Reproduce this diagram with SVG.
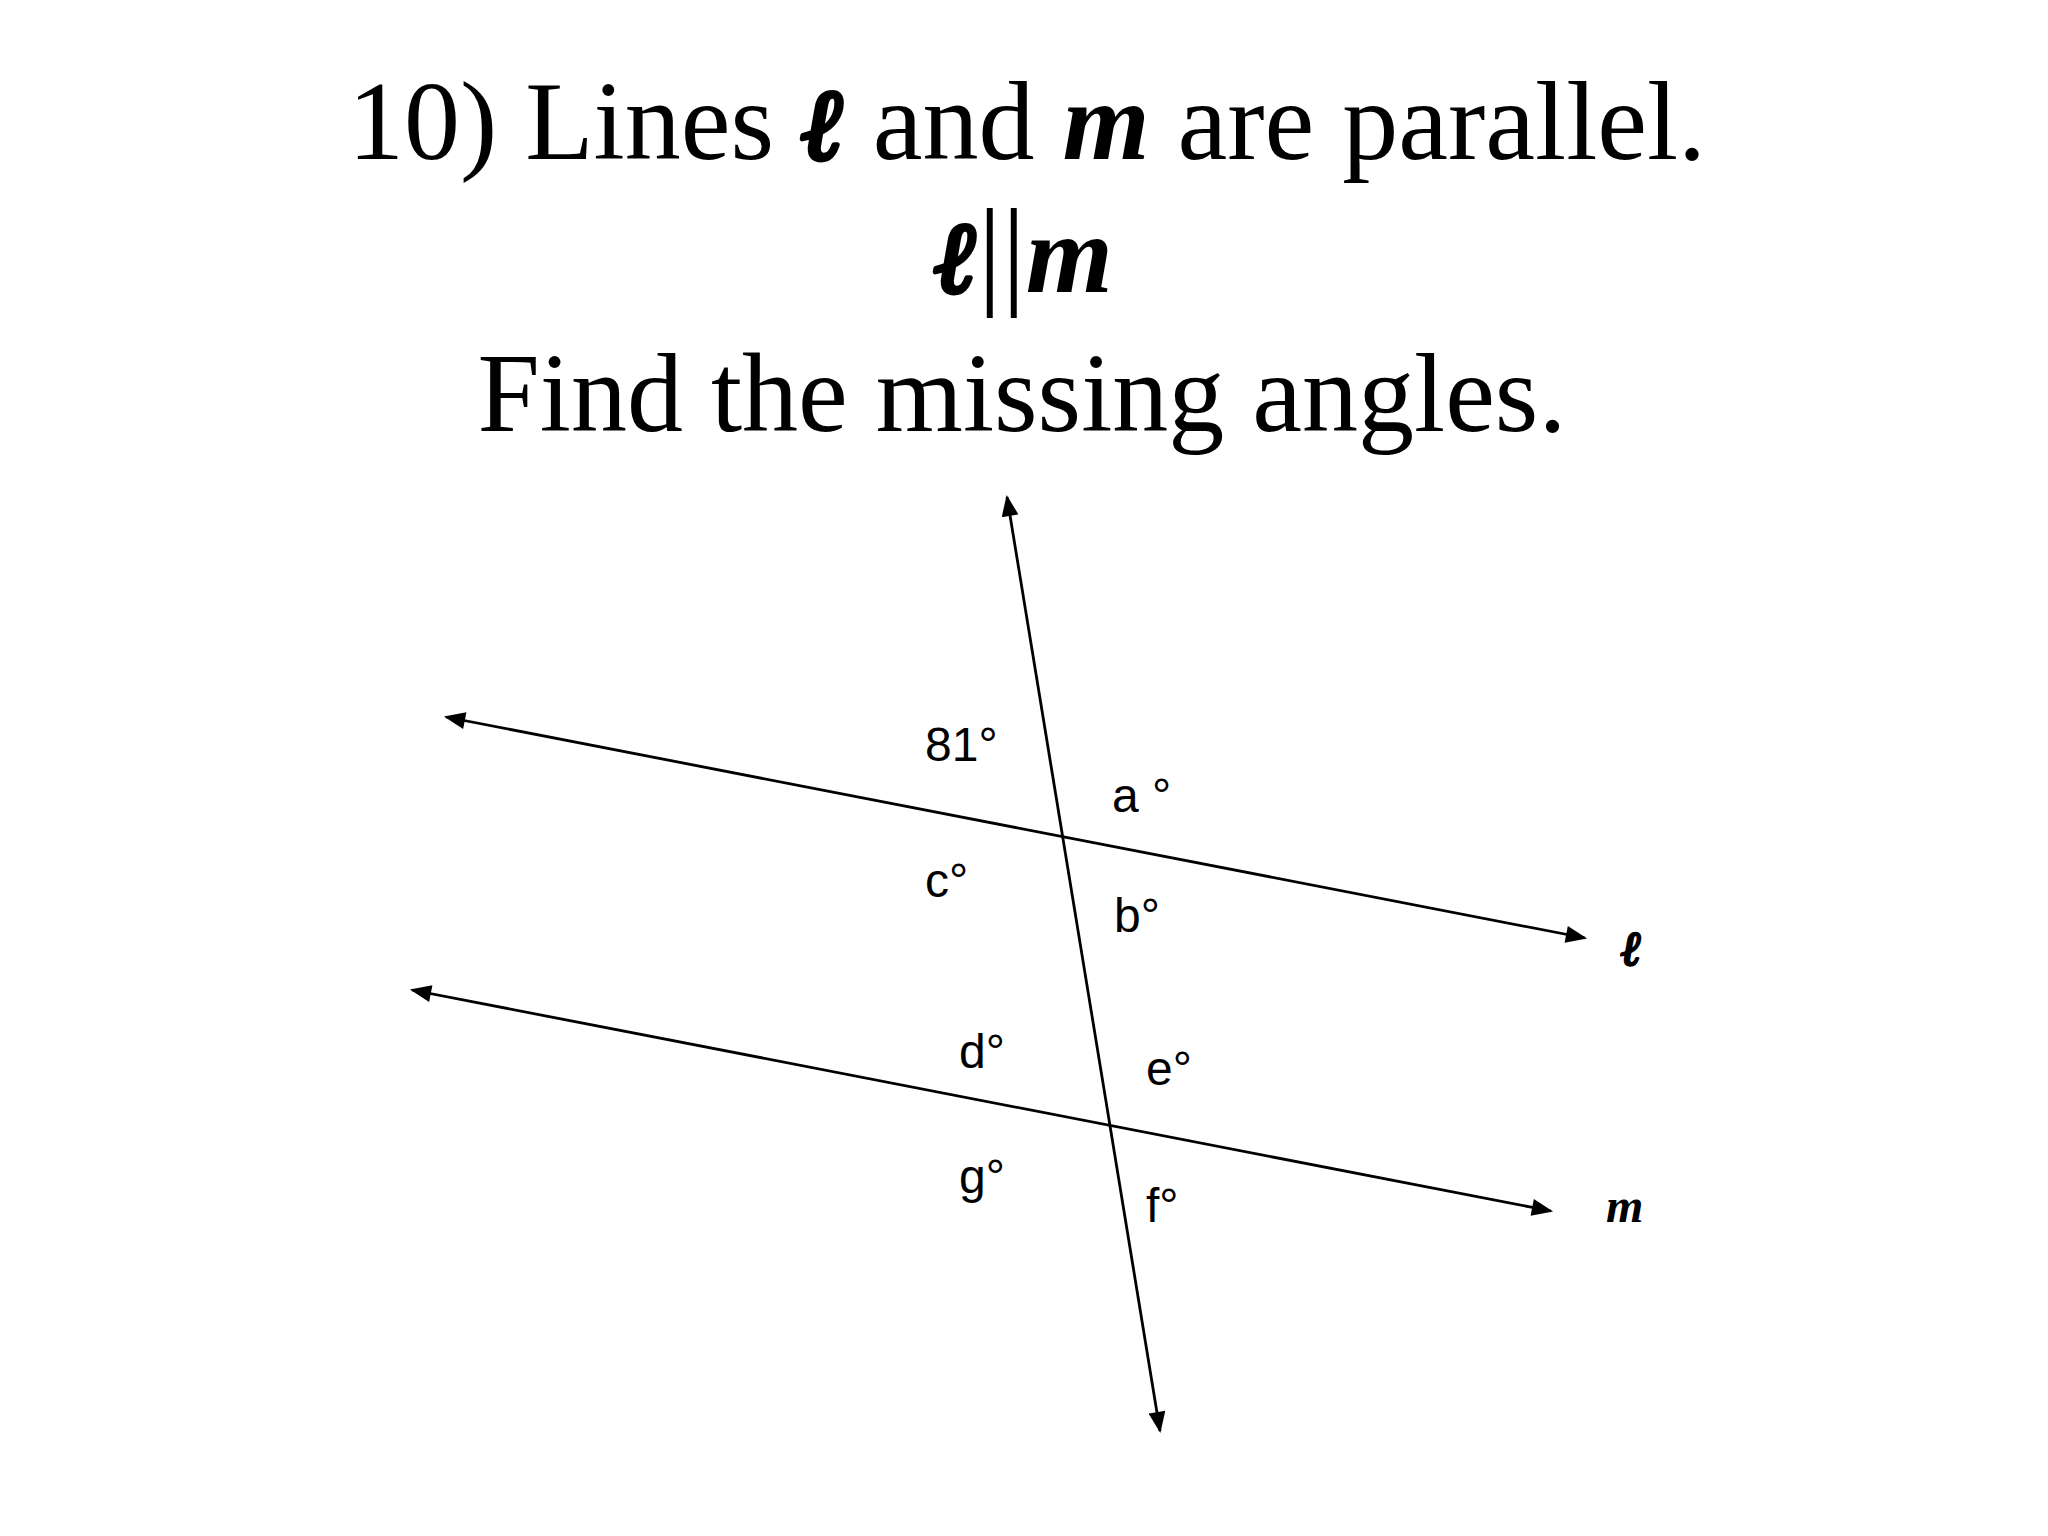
<svg xmlns="http://www.w3.org/2000/svg" width="2048" height="1536" viewBox="0 0 2048 1536">
<defs>
<style>
.title{font-family:"Liberation Serif","Times New Roman",serif;font-size:112px;fill:#000}
.sym{font-family:"DejaVu Serif","Liberation Serif",serif;font-weight:bold;font-style:italic;stroke:#000;stroke-width:5;stroke-linejoin:round}
.msym{font-family:"Liberation Serif",serif;font-weight:bold;font-style:italic}
.lbl{font-family:"Liberation Sans",Arial,sans-serif;font-size:48px;fill:#000}
.ln{stroke:#000;stroke-width:2.8;fill:none;marker-start:url(#ah);marker-end:url(#ah)}
</style>
<marker id="ah" viewBox="0 0 20 16" refX="18" refY="8" markerWidth="22" markerHeight="17" markerUnits="userSpaceOnUse" orient="auto-start-reverse">
<path d="M0,0 L20,8 L0,16 Z" fill="#000"/>
</marker>
</defs>
<rect width="2048" height="1536" fill="#fff"/>
<g id="title">
<text class="title" x="1027" y="159" text-anchor="middle">10) Lines <tspan class="sym" font-size="100">ℓ</tspan> and <tspan class="msym">m</tspan> are parallel.</text>
<text class="title" x="1024" y="292" text-anchor="middle"><tspan class="sym" font-size="100">ℓ</tspan><tspan font-size="120">||</tspan><tspan class="msym">m</tspan></text>
<text class="title" x="1022" y="431" text-anchor="middle">Find the missing angles.</text>
</g>
<g id="connectors">
<line id="transversal" class="ln" x1="1007" y1="497" x2="1160" y2="1431"/>
<line id="line-l" class="ln" x1="446" y1="717" x2="1585" y2="938"/>
<line id="line-m" class="ln" x1="412" y1="990" x2="1551" y2="1211"/>
</g>
<g id="line-labels">
<text id="label-l" x="1621" y="965" font-family="DejaVu Serif, serif" font-weight="bold" font-style="italic" font-size="48" stroke="#000" stroke-width="2.5" stroke-linejoin="round">ℓ</text>
<text id="label-m" x="1606" y="1222" font-family="Liberation Serif, serif" font-weight="bold" font-style="italic" font-size="48">m</text>
</g>
<g id="angle-labels">
<text id="ang-81" class="lbl" x="925" y="761">81°</text>
<text id="ang-a" class="lbl" x="1112" y="812">a °</text>
<text id="ang-c" class="lbl" x="925" y="897">c°</text>
<text id="ang-b" class="lbl" x="1114" y="932">b°</text>
<text id="ang-d" class="lbl" x="959" y="1068">d°</text>
<text id="ang-e" class="lbl" x="1146" y="1085">e°</text>
<text id="ang-g" class="lbl" x="959" y="1193">g°</text>
<text id="ang-f" class="lbl" x="1146" y="1222">f°</text>
</g>
</svg>
